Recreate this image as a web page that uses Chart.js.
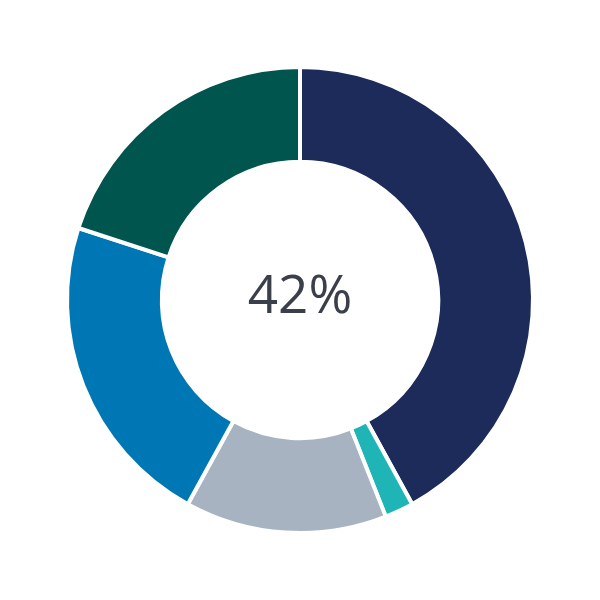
<!DOCTYPE html>
<html>
<head>
<meta charset="utf-8">
<script src="https://cdn.jsdelivr.net/npm/chart.js@4"></script>
<style>
html,body{margin:0;padding:0;background:#fff;}
#wrap{width:600px;height:600px;}
</style>
</head>
<body>
<div id="wrap"><canvas id="c" width="600" height="600"></canvas></div>
<script>
const categories = ["A", "B", "C", "D", "E"];
const values = [42, 2, 14, 22, 20];
const colors = ["#1d2b5a", "#1fb5b6", "#a8b3c2", "#0077b5", "#00554f"];
const centerLabel = "42%";

const centerText = {
  id: 'centerText',
  afterDraw(chart) {
    const {ctx, chartArea} = chart;
    const cx = (chartArea.left + chartArea.right) / 2;
    const cy = (chartArea.top + chartArea.bottom) / 2;
    ctx.save();
    ctx.font = '400 53px "Open Sans", sans-serif';
    ctx.fillStyle = '#3a3f4a';
    ctx.textAlign = 'center';
    ctx.textBaseline = 'middle';
    ctx.fillText(centerLabel, cx, cy - 2);
    ctx.restore();
  }
};

new Chart(document.getElementById('c'), {
  type: 'doughnut',
  data: {
    labels: categories,
    datasets: [{
      data: values,
      backgroundColor: colors,
      borderColor: '#ffffff',
      borderWidth: 4,
      hoverOffset: 0
    }]
  },
  options: {
    responsive: false,
    animation: false,
    radius: 233,
    cutout: '59.3%',
    plugins: {
      legend: {display: false},
      tooltip: {enabled: false}
    }
  },
  plugins: [centerText]
});
</script>
</body>
</html>
